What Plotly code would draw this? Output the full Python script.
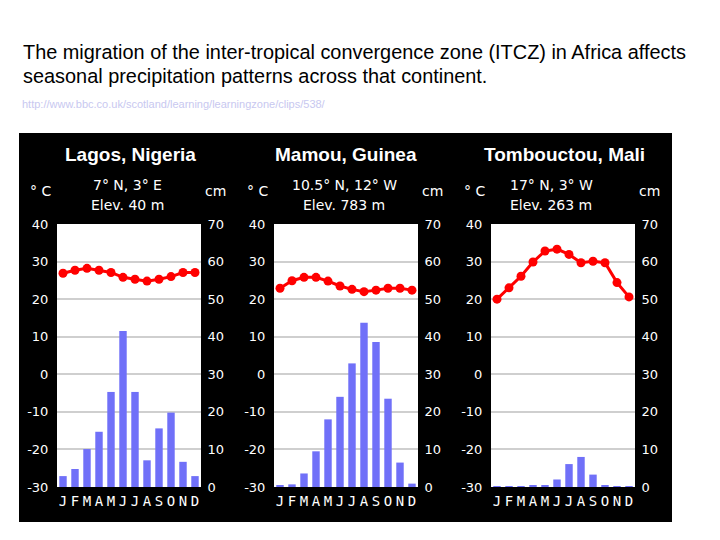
import plotly.graph_objects as go

month_labels = ["J", "F", "M", "A", "M", "J", "J", "A", "S", "O", "N", "D"]

stations = ["Lagos, Nigeria", "Mamou, Guinea", "Tombouctou, Mali"]
coords = ["7° N, 3° E", "10.5° N, 12° W", "17° N, 3° W"]
elevs = ["Elev. 40 m", "Elev. 783 m", "Elev. 263 m"]

temp_lagos = [26.9, 27.7, 28.2, 27.7, 27.1, 25.8, 25.3, 24.8, 25.3, 26.0, 27.1, 27.1]
rain_lagos = [2.9, 4.8, 10.1, 14.7, 25.3, 41.5, 25.3, 7.1, 15.6, 19.8, 6.7, 2.9]

temp_mamou = [22.9, 24.9, 25.8, 25.8, 24.8, 23.5, 22.6, 22.0, 22.4, 22.9, 22.9, 22.4]
rain_mamou = [0.3, 0.7, 3.6, 9.5, 18.0, 24.0, 32.9, 43.7, 38.6, 23.5, 6.5, 0.9]

temp_tomb = [20.0, 23.0, 26.1, 29.9, 32.8, 33.3, 31.9, 29.7, 30.1, 29.7, 24.4, 20.6]
rain_tomb = [0.1, 0.1, 0.1, 0.4, 0.4, 2.0, 6.1, 8.0, 3.3, 0.4, 0.1, 0.1]

temps = [temp_lagos, temp_mamou, temp_tomb]
rains = [rain_lagos, rain_mamou, rain_tomb]

temp_ticks = [-30, -20, -10, 0, 10, 20, 30, 40]
cm_ticks = [0, 10, 20, 30, 40, 50, 60, 70]

W, H = 720, 540
def px(x):
    return x / W
def py(y):
    return 1 - y / H

lefts = [57, 274, 491]
pw = 144
top, bottom = 224, 487

fig = go.Figure()
xs = list(range(12))

for i in range(3):
    n = i + 1
    xa = "x" if n == 1 else f"x{n}"
    ya_t = f"y{2*i+1}" if i > 0 else "y"
    ya_r = f"y{2*i+2}"
    fig.add_trace(go.Bar(x=xs, y=rains[i], xaxis=xa, yaxis=ya_r,
                         marker=dict(color="#7070f8", line=dict(width=0)),
                         width=0.62, showlegend=False, hoverinfo="skip"))
    fig.add_trace(go.Scatter(x=xs, y=temps[i], xaxis=xa, yaxis=ya_t,
                             mode="lines+markers",
                             line=dict(color="#ff0000", width=3),
                             marker=dict(color="#ff0000", size=9),
                             showlegend=False, hoverinfo="skip"))

tick_font = dict(color="white", size=13, family="DejaVu Sans")
layout = dict(
    width=W, height=H, margin=dict(l=0, r=0, t=0, b=0, autoexpand=False),
    paper_bgcolor="white", plot_bgcolor="white",
)

for i in range(3):
    n = i + 1
    xkey = "xaxis" if n == 1 else f"xaxis{n}"
    tnum = 2 * i + 1
    rnum = 2 * i + 2
    tkey = "yaxis" if tnum == 1 else f"yaxis{tnum}"
    rkey = f"yaxis{rnum}"
    xname = "x" if n == 1 else f"x{n}"
    tname = "y" if tnum == 1 else f"y{tnum}"
    layout[xkey] = dict(
        domain=[px(lefts[i]), px(lefts[i] + pw)], range=[-0.5, 11.5],
        anchor=tname, tickmode="array", tickvals=xs, ticktext=month_labels,
        showgrid=False, zeroline=False, showline=False, ticks="outside",
        ticklen=1, tickcolor="black", tickangle=0,
        tickfont=dict(color="white", size=14, family="DejaVu Sans Mono"),
        automargin=False,
    )
    layout[tkey] = dict(
        domain=[py(bottom), py(top)], range=[-30, 40], anchor=xname,
        tickmode="array", tickvals=temp_ticks, ticktext=[str(v) for v in temp_ticks],
        side="left",
        showgrid=True, gridcolor="#cfcfcf", gridwidth=2, zeroline=False,
        showline=False, ticks="outside", ticklen=5, tickcolor="black",
        tickfont=tick_font, automargin=False,
    )
    layout[rkey] = dict(
        range=[0, 70], overlaying=tname, side="right", anchor=xname,
        tickmode="array", tickvals=cm_ticks, ticktext=[str(v) for v in cm_ticks],
        showgrid=False, zeroline=False,
        showline=False, ticks="outside", ticklen=3, tickcolor="black",
        tickfont=tick_font, automargin=False,
    )

fig.update_layout(**layout)

shapes = [dict(type="rect", xref="paper", yref="paper",
               x0=px(19), x1=px(672), y0=py(522), y1=py(133),
               fillcolor="black", line=dict(width=0), layer="below")]
for i in range(3):
    shapes.append(dict(type="rect", xref="paper", yref="paper",
                       x0=px(lefts[i]), x1=px(lefts[i] + pw), y0=py(bottom), y1=py(top),
                       fillcolor="white", line=dict(width=0), layer="below"))
fig.update_layout(shapes=shapes)

ann = []
ann.append(dict(x=px(21), y=py(52), xref="paper", yref="paper", xanchor="left", yanchor="middle",
                text="The migration of the inter-tropical convergence zone (ITCZ) in Africa affects",
                showarrow=False, font=dict(family="Liberation Sans", size=19.9, color="black")))
ann.append(dict(x=px(21), y=py(76), xref="paper", yref="paper", xanchor="left", yanchor="middle",
                text="seasonal precipitation patterns across that continent.",
                showarrow=False, font=dict(family="Liberation Sans", size=19.9, color="black")))
ann.append(dict(x=px(20), y=py(104), xref="paper", yref="paper", xanchor="left", yanchor="middle",
                text="http://www.bbc.co.uk/scotland/learning/learningzone/clips/538/",
                showarrow=False, font=dict(family="Liberation Sans", size=11, color="#c8c8f0")))

title_cx = [130, 346, 564]
sub_cx = [127, 344, 551]
for i in range(3):
    ann.append(dict(x=px(title_cx[i]), y=py(155), xref="paper", yref="paper",
                    xanchor="center", yanchor="middle",
                    text="<b>" + stations[i] + "</b>", showarrow=False,
                    font=dict(family="Liberation Sans", size=19, color="white")))
    ann.append(dict(x=px(sub_cx[i]), y=py(185), xref="paper", yref="paper",
                    xanchor="center", yanchor="middle",
                    text=coords[i], showarrow=False,
                    font=dict(family="DejaVu Sans", size=14, color="white")))
    ann.append(dict(x=px(sub_cx[i]), y=py(205), xref="paper", yref="paper",
                    xanchor="center", yanchor="middle",
                    text=elevs[i], showarrow=False,
                    font=dict(family="DejaVu Sans", size=14, color="white")))
    ann.append(dict(x=px(lefts[i] - 17), y=py(191), xref="paper", yref="paper",
                    xanchor="center", yanchor="middle",
                    text="° C", showarrow=False,
                    font=dict(family="DejaVu Sans", size=14, color="white")))
    ann.append(dict(x=px(lefts[i] + pw + 14), y=py(191), xref="paper", yref="paper",
                    xanchor="center", yanchor="middle",
                    text="cm", showarrow=False,
                    font=dict(family="DejaVu Sans", size=14, color="white")))

fig.update_layout(annotations=ann)

fig.write_html("out.html")
